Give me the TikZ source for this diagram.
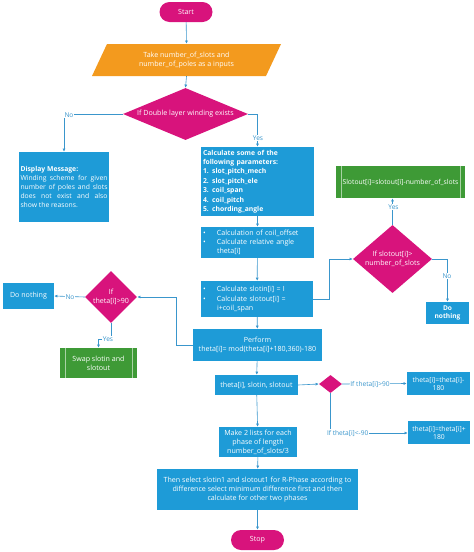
\documentclass[tikz,border=0pt]{standalone}
\usepackage{fontspec}
\setmainfont{Open Sans}
\usetikzlibrary{shapes.geometric,arrows.meta}
\definecolor{magC}{HTML}{D8137C}
\definecolor{blueC}{HTML}{1E9BD7}
\definecolor{orangeC}{HTML}{F39A1E}
\definecolor{greenC}{HTML}{3E9A36}
\definecolor{lineC}{HTML}{3A96CC}
\begin{document}
\begin{tikzpicture}[x=1pt,y=-1pt,
  font=\fontsize{7.1}{9}\selectfont,
  box/.style={rectangle, fill=blueC, text=white, align=center, inner sep=1pt},
  pill/.style={rectangle, rounded corners=10pt, fill=magC, text=white, inner sep=1pt, minimum width=53pt, minimum height=20pt},
  dia/.style={diamond, fill=magC, inner sep=0pt, aspect=1},
  diatext/.style={text=white, align=center, inner sep=0pt},
  subr/.style={rectangle, fill=greenC, text=white, align=center, inner sep=1pt},
  conn/.style={draw=lineC, line width=0.6pt},
  arr/.style={conn, -{Latex[length=3.2pt,width=3pt]}},
  lbl/.style={text=lineC, fill=white, inner sep=0.8pt, font=\fontsize{6.6}{7.5}\selectfont},
]
\useasboundingbox (0,0) rectangle (474,552);

% nodes
\node[pill] (start) at (186,12) {Start};
\fill[orangeC] (107,44) -- (281,44) -- (266,76) -- (92,76) -- cycle;
\node[text=white, align=center, minimum width=160pt, minimum height=32pt, inner sep=0pt] (inp) at (186.5,60) {Take number\_of\_slots and\\number\_of\_poles as a inputs};
\node[dia, minimum width=125pt, minimum height=52pt] (d1) at (185.5,114) {};
\node[diatext] (d1t) at (d1.center) {If Double layer winding exists};

\node[box, minimum width=90pt, minimum height=70pt, align=left, font=\fontsize{6.8}{9}\selectfont] (disp) at (64,187)
 {\textbf{Display Message:}\\[-0.5pt]
  \makebox[87pt][s]{Winding scheme for given}\\
  \makebox[87pt][s]{number of poles and slots}\\
  \makebox[87pt][s]{does not exist and also}\\
  show the reasons.};

\node[box, minimum width=113pt, minimum height=69pt, align=left, font=\fontsize{6.8}{9.4}\selectfont\bfseries, text width=109pt] (calc) at (257.5,181.5)
 {Calculate some of the\\following parameters:\\1. slot\_pitch\_mech\\2. slot\_pitch\_ele\\3. coil\_span\\4. coil\_pitch\\5. chording\_angle};

\node[box, minimum width=113pt, minimum height=31pt, align=left, text width=109pt] (b2) at (257.5,242.5)
 {\makebox[14pt][l]{•}Calculation of coil\_offset\\[0.5pt]
  \makebox[14pt][l]{•}Calculate relative angle\\
  \hspace*{14pt}theta[i]};

\node[box, minimum width=112pt, minimum height=36pt, align=left, text width=108pt] (b3) at (257,299)
 {\makebox[14pt][l]{•}Calculate slotin[i] = I\\[0.5pt]
  \makebox[14pt][l]{•}Calculate slotout[i] =\\
  \hspace*{14pt}i+coil\_span};

\node[dia, minimum width=79pt, minimum height=68pt] (d2) at (392.5,259) {};
\node[diatext] (d2t) at (d2.center) {If slotout[i]>\\number\_of\_slots};
\node[subr, minimum width=129pt, minimum height=32pt, font=\fontsize{6.8}{8}\selectfont] (g1) at (400.5,182) {Slotout[i]=slotout[i]-number\_of\_slots};
\node[box, minimum width=43pt, minimum height=22pt, font=\fontsize{6.6}{8}\selectfont\bfseries] (dn1) at (447.5,313) {Do\\nothing};

\node[box, minimum width=129pt, minimum height=32pt] (b4) at (257.5,345) {Perform\\theta[i]= mod(theta[i]+180,360)-180};

\node[dia, minimum width=52pt, minimum height=52pt] (d3) at (111,297) {};
\node[diatext] (d3t) at (d3.center) {If\\theta[i]>90};
\node[box, minimum width=51pt, minimum height=26pt] (dn2) at (28.5,296) {Do nothing};
\node[subr, minimum width=77pt, minimum height=30pt] (swap) at (98.5,363) {Swap slotin and\\slotout};

\node[box, minimum width=83pt, minimum height=20pt] (b5) at (256.5,385) {theta[i], slotin, slotout};
\node[dia, minimum width=23pt, minimum height=18pt] (d4) at (330.5,384) {};
\node[box, minimum width=63pt, minimum height=23pt, font=\fontsize{6.8}{8}\selectfont] (t1) at (438.5,383.5) {theta[i]=theta[i]-\\180};
\node[box, minimum width=62pt, minimum height=23pt, font=\fontsize{6.8}{8}\selectfont] (t2) at (439,432.5) {theta[i]=theta[i]+\\180};

\node[box, minimum width=78pt, minimum height=30pt] (b6) at (258,442) {Make 2 lists for each\\phase of length\\number\_of\_slots/3};
\node[box, minimum width=201pt, minimum height=41pt] (b7) at (257.5,489.5) {Then select slotin1 and slotout1 for R-Phase according to\\difference select minimum difference first and then\\calculate for other two phases};
\node[pill] (stop) at (257.5,540) {Stop};

% subroutine inner lines
\foreach \n in {g1,swap}{
  \draw[white!55!greenC, line width=0.5pt] ([xshift=5pt]\n.north west) -- ([xshift=5pt]\n.south west);
  \draw[white!55!greenC, line width=0.5pt] ([xshift=-5pt]\n.north east) -- ([xshift=-5pt]\n.south east);
}

% connectors
\draw[arr] (start) -- (inp.north);
\draw[arr] (inp.south) -- (d1.north);
\draw[arr] (d1.west) -| (disp.north);
\node[lbl] (lno1) at (69,115) {No};
\draw[arr] (d1.east) -| (calc.north);
\node[lbl] (lyes1) at (258,138) {Yes};
\draw[arr] (calc) -- (b2);
\draw[arr] (b2) -- (b3);
\draw[arr] (b3) -- (b4);
\draw[arr] (b4) -- (b5);
\draw[arr] (b5) -- (b6);
\draw[arr] (b6) -- (b7);
\draw[arr] (b7) -- (stop);

\coordinate (c1) at (329,299);
\draw[arr] (b3.east) -- (c1) |- (d2.west);
\draw[arr] (d2.north) -- (g1.south -| d2.north);
\node[lbl] (lyes2) at (393.5,207) {Yes};
\draw[arr] (d2.east) -| (dn1.north);
\node[lbl] (lno2) at (447,276) {No};

\coordinate (c2) at (176,345);
\draw[arr] (b4.west) -- (c2) |- (d3.east);
\draw[arr] (d3.west) -- (dn2.east);
\node[lbl] (lno3) at (70,297) {No};
\coordinate (c3) at (111,339);
\coordinate (c4) at (98.5,339);
\draw[arr] (d3.south) -- (c3) -- (c4) -- (swap.north);
\node[lbl] (lyes3) at (108,339.5) {Yes};

\draw[arr] (b5.east) -- (d4.west);
\draw[arr] (d4.east) -- (t1.west);
\node[lbl] (lt1) at (370,384) {If theta[i]>90};
\node[lbl, anchor=west] (lt2) at (326,433) {If theta[i]<-90};
\draw[conn] (d4.south) -- (d4.south |- lt2.north);
\draw[arr] (lt2.east) -- (lt2.east -| t2.west);
\end{tikzpicture}
\end{document}
